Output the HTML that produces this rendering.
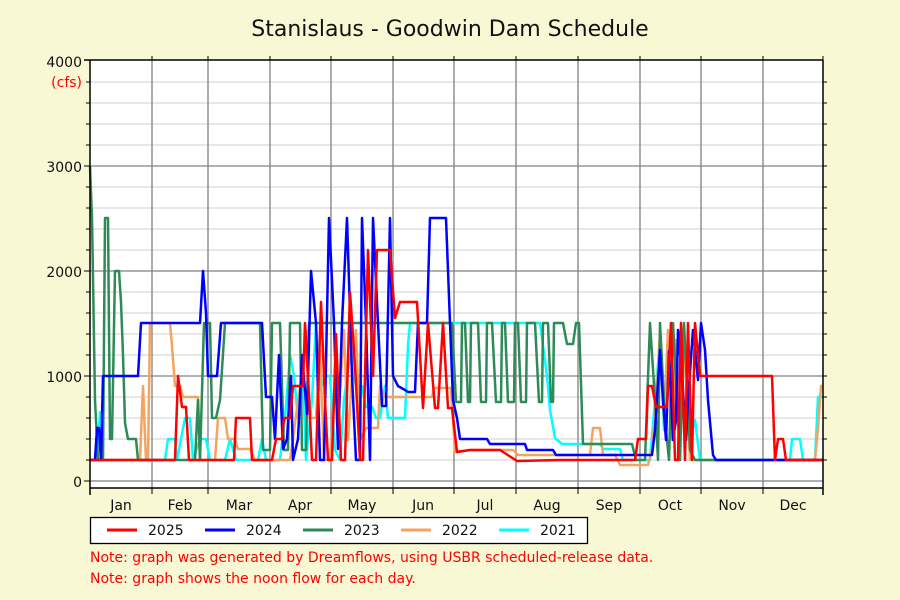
<!DOCTYPE html>
<html><head><meta charset="utf-8"><style>
body{margin:0;background:#fafad2;}
svg{display:block;font-family:"DejaVu Sans","Liberation Sans",sans-serif;}
</style></head><body>
<svg width="900" height="600" viewBox="0 0 900 600" xmlns="http://www.w3.org/2000/svg">
<rect width="900" height="600" fill="#f9f8d4"/>
<text x="450" y="36" font-size="22" text-anchor="middle" fill="#111">Stanislaus - Goodwin Dam Schedule</text>
<rect x="90" y="60" width="733" height="428" fill="#fff"/>
<g stroke="#cfcfcf" stroke-width="1">
<line x1="90" x2="823" y1="460" y2="460"/><line x1="90" x2="823" y1="439" y2="439"/><line x1="90" x2="823" y1="418" y2="418"/><line x1="90" x2="823" y1="397" y2="397"/>
<line x1="90" x2="823" y1="355" y2="355"/><line x1="90" x2="823" y1="334" y2="334"/><line x1="90" x2="823" y1="313" y2="313"/><line x1="90" x2="823" y1="292" y2="292"/>
<line x1="90" x2="823" y1="250" y2="250"/><line x1="90" x2="823" y1="229" y2="229"/><line x1="90" x2="823" y1="208" y2="208"/><line x1="90" x2="823" y1="187" y2="187"/>
<line x1="90" x2="823" y1="145" y2="145"/><line x1="90" x2="823" y1="124" y2="124"/><line x1="90" x2="823" y1="103" y2="103"/><line x1="90" x2="823" y1="82" y2="82"/>
</g>
<g stroke="#808080" stroke-width="1.3">
<line x1="90" x2="823" y1="481" y2="481"/><line x1="90" x2="823" y1="376" y2="376"/><line x1="90" x2="823" y1="271" y2="271"/><line x1="90" x2="823" y1="166" y2="166"/>
<line x1="152" x2="152" y1="60" y2="488"/><line x1="208" x2="208" y1="60" y2="488"/><line x1="270" x2="270" y1="60" y2="488"/><line x1="331" x2="331" y1="60" y2="488"/><line x1="393" x2="393" y1="60" y2="488"/><line x1="454" x2="454" y1="60" y2="488"/><line x1="516" x2="516" y1="60" y2="488"/><line x1="578" x2="578" y1="60" y2="488"/><line x1="640" x2="640" y1="60" y2="488"/><line x1="701" x2="701" y1="60" y2="488"/><line x1="763" x2="763" y1="60" y2="488"/>
</g>
<g fill="none" stroke-width="2.5" stroke-linejoin="round">
<polyline stroke="#00ffff" points="90,460 97,460 100,412 102,460 165,460 168,439 175,439 177,460 185,418 190,418 193,460 200,439 206,439 210,460 225,460 230,439 236,460 258,460 262,439 266,460 280,460 285,418 290,355 294,376 298,418 303,376 306,460 312,400 316,323 320,390 325,376 330,376 335,450 340,460 344,400 350,355 356,386 362,386 366,407 372,407 376,418 380,418 385,386 388,418 405,418 408,345 410,323 540,323 547,376 550,410 555,438 562,444 600,444 603,449 620,449 623,460 640,460 650,460 655,400 660,340 664,430 668,350 672,440 676,360 680,440 684,350 690,440 695,420 700,460 790,460 792,439 800,439 803,460 815,460 818,397 823,397"/>
<polyline stroke="#f4a460" points="90,460 140,460 143,386 146,460 148,460 150,323 170,323 172,346 175,386 180,386 183,397 198,397 200,460 215,460 218,418 225,418 228,439 235,439 238,449 250,449 255,460 290,460 293,439 298,400 302,376 306,330 310,418 316,418 320,350 324,460 330,460 336,376 340,390 344,330 348,440 352,376 356,330 360,440 366,428 378,428 380,386 385,397 432,397 434,388 451,388 455,452 470,450 513,450 518,455 590,455 593,428 600,428 603,455 615,455 620,465 648,465 652,450 657,390 660,330 664,420 668,330 672,440 676,340 680,440 684,340 690,460 700,460 815,460 818,428 821,386 823,386"/>
<polyline stroke="#2e8b57" points="90,166 92,218 95,400 98,460 103,460 105,218 108,218 110,439 112,439 115,271 119,271 121,302 123,355 125,423 128,439 136,439 138,460 195,460 198,400 200,460 204,323 210,323 212,418 216,418 220,400 225,323 228,323 260,323 263,450 266,450 270,450 272,323 280,323 284,450 288,450 290,323 300,323 302,450 306,450 309,323 340,323 344,323 452,323 456,402 461,402 462,323 465,323 468,402 470,402 471,323 478,323 481,402 486,402 487,323 492,323 496,402 501,402 502,323 505,323 508,402 514,402 515,323 518,323 521,402 526,402 527,323 535,323 539,402 542,402 543,323 548,323 551,402 553,402 554,323 563,323 567,344 573,344 576,323 579,323 583,444 632,444 636,460 645,460 650,323 655,400 658,460 660,323 665,420 669,460 673,323 677,400 680,460 684,323 690,450 695,460 823,460"/>
<polyline stroke="#0000ff" points="90,460 95,460 97,428 99,428 101,460 103,376 138,376 141,323 200,323 203,271 206,313 208,376 214,376 217,376 221,323 262,323 266,397 272,397 275,439 279,355 283,449 287,439 291,376 293,460 298,439 302,355 307,414 311,271 316,323 320,460 324,460 329,218 334,323 338,449 342,323 347,218 352,376 356,460 360,460 362,218 366,323 370,460 373,218 378,323 382,406 386,406 390,218 393,376 398,386 405,390 408,392 415,392 418,323 427,323 430,218 446,218 450,323 453,400 457,418 460,439 487,439 490,444 525,444 527,450 553,450 556,455 640,455 652,455 655,430 660,350 663,400 666,440 669,351 673,440 676,420 678,330 683,390 686,440 688,400 693,330 698,380 701,323 705,350 708,400 713,455 716,460 823,460"/>
<polyline stroke="#ff0000" points="90,460 175,460 178,376 182,407 186,407 189,460 234,460 236,418 250,418 252,460 272,460 276,439 282,439 284,418 290,418 293,386 303,386 305,323 309,397 312,460 316,460 321,302 325,400 328,460 332,460 336,334 341,460 345,460 350,292 355,366 360,460 363,460 368,250 373,376 377,250 390,250 395,318 400,302 417,302 423,408 428,323 435,408 438,408 443,323 448,408 452,408 457,452 470,450 500,450 517,461 560,460 578,460 635,460 638,439 646,439 648,386 652,386 656,407 667,407 671,323 675,460 678,460 681,323 685,460 688,323 692,460 695,323 700,376 772,376 775,460 778,439 783,439 786,460 823,460"/>
</g>
<g stroke="#000" stroke-width="1.5" fill="none">
<line x1="90" x2="90" y1="60" y2="495"/><line x1="823" x2="823" y1="60" y2="495"/>
<line x1="90" x2="823" y1="488" y2="488"/><line x1="84" x2="823" y1="60" y2="60"/>
</g>
<g stroke="#000" stroke-width="1">
<line x1="84" x2="90" y1="481" y2="481"/><line x1="84" x2="90" y1="376" y2="376"/><line x1="84" x2="90" y1="271" y2="271"/><line x1="84" x2="90" y1="166" y2="166"/>
<line x1="86" x2="90" y1="460" y2="460"/><line x1="86" x2="90" y1="439" y2="439"/><line x1="86" x2="90" y1="418" y2="418"/><line x1="86" x2="90" y1="397" y2="397"/><line x1="86" x2="90" y1="355" y2="355"/><line x1="86" x2="90" y1="334" y2="334"/><line x1="86" x2="90" y1="313" y2="313"/><line x1="86" x2="90" y1="292" y2="292"/><line x1="86" x2="90" y1="250" y2="250"/><line x1="86" x2="90" y1="229" y2="229"/><line x1="86" x2="90" y1="208" y2="208"/><line x1="86" x2="90" y1="187" y2="187"/><line x1="86" x2="90" y1="145" y2="145"/><line x1="86" x2="90" y1="124" y2="124"/><line x1="86" x2="90" y1="103" y2="103"/><line x1="86" x2="90" y1="82" y2="82"/>
<line x1="823" x2="827" y1="460" y2="460"/><line x1="823" x2="827" y1="439" y2="439"/><line x1="823" x2="827" y1="418" y2="418"/><line x1="823" x2="827" y1="397" y2="397"/><line x1="823" x2="827" y1="376" y2="376"/><line x1="823" x2="827" y1="355" y2="355"/><line x1="823" x2="827" y1="334" y2="334"/><line x1="823" x2="827" y1="313" y2="313"/><line x1="823" x2="827" y1="292" y2="292"/><line x1="823" x2="827" y1="271" y2="271"/><line x1="823" x2="827" y1="250" y2="250"/><line x1="823" x2="827" y1="229" y2="229"/><line x1="823" x2="827" y1="208" y2="208"/><line x1="823" x2="827" y1="187" y2="187"/><line x1="823" x2="827" y1="166" y2="166"/><line x1="823" x2="827" y1="145" y2="145"/><line x1="823" x2="827" y1="124" y2="124"/><line x1="823" x2="827" y1="103" y2="103"/><line x1="823" x2="827" y1="82" y2="82"/>
<line x1="152" x2="152" y1="488" y2="494"/><line x1="208" x2="208" y1="488" y2="494"/><line x1="270" x2="270" y1="488" y2="494"/><line x1="331" x2="331" y1="488" y2="494"/><line x1="393" x2="393" y1="488" y2="494"/><line x1="454" x2="454" y1="488" y2="494"/><line x1="516" x2="516" y1="488" y2="494"/><line x1="578" x2="578" y1="488" y2="494"/><line x1="640" x2="640" y1="488" y2="494"/><line x1="701" x2="701" y1="488" y2="494"/><line x1="763" x2="763" y1="488" y2="494"/>
<line x1="152" x2="152" y1="56" y2="60"/><line x1="208" x2="208" y1="56" y2="60"/><line x1="270" x2="270" y1="56" y2="60"/><line x1="331" x2="331" y1="56" y2="60"/><line x1="393" x2="393" y1="56" y2="60"/><line x1="454" x2="454" y1="56" y2="60"/><line x1="516" x2="516" y1="56" y2="60"/><line x1="578" x2="578" y1="56" y2="60"/><line x1="640" x2="640" y1="56" y2="60"/><line x1="701" x2="701" y1="56" y2="60"/><line x1="763" x2="763" y1="56" y2="60"/><line x1="823" x2="823" y1="56" y2="60"/>
</g>
<g font-size="14" fill="#111" text-anchor="end">
<text x="82" y="67">4000</text><text x="82" y="172">3000</text><text x="82" y="277">2000</text><text x="82" y="382">1000</text><text x="82" y="487">0</text>
</g>
<text x="82" y="87" font-size="14" fill="#ff0000" text-anchor="end">(cfs)</text>
<g font-size="14" fill="#111" text-anchor="middle">
<text x="121" y="510">Jan</text><text x="180" y="510">Feb</text><text x="239" y="510">Mar</text><text x="300" y="510">Apr</text><text x="362" y="510">May</text><text x="423" y="510">Jun</text><text x="485" y="510">Jul</text><text x="547" y="510">Aug</text><text x="609" y="510">Sep</text><text x="670" y="510">Oct</text><text x="732" y="510">Nov</text><text x="793" y="510">Dec</text>
</g>
<rect x="90.5" y="517.5" width="497" height="26" fill="#fff" stroke="#000" stroke-width="1.3"/>
<g stroke-width="3">
<line x1="107" x2="137" y1="530" y2="530" stroke="#ff0000"/><line x1="205" x2="235" y1="530" y2="530" stroke="#0000ff"/><line x1="303" x2="333" y1="530" y2="530" stroke="#2e8b57"/><line x1="401" x2="431" y1="530" y2="530" stroke="#f4a460"/><line x1="499" x2="529" y1="530" y2="530" stroke="#00ffff"/>
</g>
<g font-size="14" fill="#111">
<text x="148" y="535">2025</text><text x="246" y="535">2024</text><text x="344" y="535">2023</text><text x="442" y="535">2022</text><text x="540" y="535">2021</text>
</g>
<g font-size="14" fill="#ff0000">
<text x="90" y="562">Note: graph was generated by Dreamflows, using USBR scheduled-release data.</text>
<text x="90" y="583">Note: graph shows the noon flow for each day.</text>
</g>
</svg>
</body></html>
